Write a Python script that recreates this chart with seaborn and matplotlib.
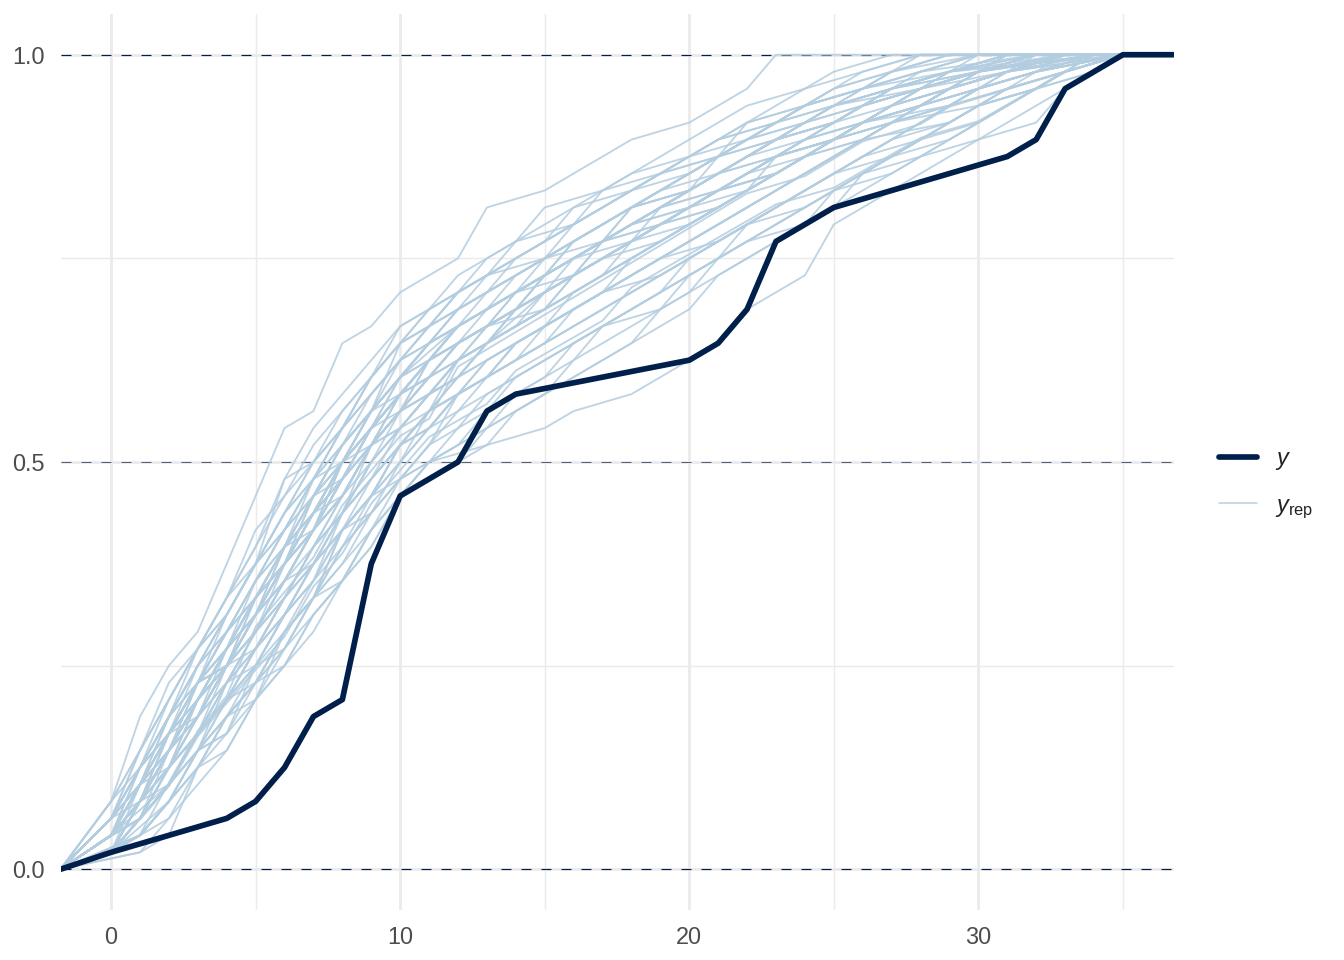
import numpy as np
import pandas as pd
import matplotlib
matplotlib.use("Agg")
import matplotlib.pyplot as plt
from matplotlib.lines import Line2D
import seaborn as sns

# ---------------- data ----------------
# observed outcome (48 counts)
y_obs = [0, 2, 4, 5, 6, 6, 7, 7, 7, 8,
         9, 9, 9, 9, 9, 9, 9, 9, 10, 10, 10, 10,
         12, 12, 13, 13, 13, 14, 17, 20, 21, 22, 22,
         23, 23, 23, 23, 25, 25, 27, 29, 31, 32, 33, 33, 33, 35, 35]

# possible count values
values = list(range(36))

# replicated datasets: frequency of each value 0..35 in each draw
yrep_freq = [
    [1,0,3,2,1,3,2,2,3,2,3, 1,1,1,0,1,1,0,1,0,2, 1,2,1,1,3,1,1,1,1,1, 0,1,2,1,1],
    [0,2,2,3,1,2,3,2,2,3,2, 2,1,1,0,2,1,1,1,1,1, 2,1,1,1,1,2,1,1,1,1, 1,0,1,0,1],
    [2,1,2,3,2,1,3,2,3,2,2, 2,2,1,1,1,0,2,1,1,1, 1,1,0,2,1,1,1,1,0,1, 1,1,0,1,1],
    [1,2,3,2,4,2,3,1,3,2,2, 1,2,1,2,1,1,1,0,1,1, 1,1,1,1,1,1,1,0,1,1, 0,1,1,0,1],
    [3,2,3,2,3,3,2,3,2,2,2, 2,1,2,1,1,1,1,1,1,1, 1,0,1,1,1,0,1,1,1,0, 1,0,1,0,0],
    [2,3,2,4,2,3,2,3,3,2,2, 1,2,1,1,2,1,1,1,1,0, 1,1,1,0,1,1,1,0,1,1, 0,0,1,0,0],
    [4,5,3,2,4,4,4,1,4,1,2, 1,1,3,0,1,1,1,1,0,1, 1,1,2,0,0,0,0,0,0,0, 0,0,0,0,0],
    [2,2,4,3,2,3,3,2,3,3,1, 2,2,1,1,0,2,1,1,1,1, 1,1,0,1,1,1,0,1,0,1, 0,1,0,0,0],
    [1,3,3,3,2,3,2,3,2,3,3, 1,2,1,1,1,1,1,1,1,1, 1,1,1,0,1,1,0,1,0,1, 0,1,0,0,1],
    [3,3,3,3,2,3,3,2,3,2,2, 2,1,1,2,1,1,1,1,0,1, 1,1,1,1,0,1,0,1,0,1, 0,1,0,0,0],
    [2,4,4,3,3,3,3,2,3,2,2, 1,2,1,1,1,1,1,1,1,1, 0,1,1,1,0,1,0,1,0,1, 0,0,0,0,0],
    [1,2,3,3,3,2,2,3,2,3,2, 2,2,1,1,1,2,1,1,1,0, 1,1,1,1,1,0,1,1,1,0, 1,0,1,0,0],
    [2,2,2,2,2,3,3,2,3,2,2, 2,1,2,1,1,1,1,1,1,1, 1,1,1,1,1,1,1,0,1,1, 0,1,0,1,0],
    [0,2,2,3,2,3,3,3,2,3,3, 2,1,2,1,1,1,1,1,1,1, 1,1,1,1,1,1,0,1,1,0, 1,0,1,0,0],
    [3,2,2,3,2,3,3,2,3,2,2, 1,2,1,1,2,1,1,1,0,1, 1,1,1,1,1,1,1,1,0,1, 0,0,1,0,0],
    [2,2,3,3,3,4,3,3,2,2,2, 1,2,1,1,1,1,1,1,1,1, 1,1,1,0,1,1,0,1,0,1, 0,1,0,0,0],
    [1,2,2,3,2,3,2,3,2,2,2, 2,1,2,1,1,1,1,1,1,1, 1,1,1,1,1,1,1,1,1,1, 0,1,0,1,0],
    [2,3,4,3,3,3,3,3,2,2,2, 2,1,1,1,1,1,1,1,1,1, 1,1,1,0,1,1,0,1,0,1, 0,0,0,0,0],
    [1,3,2,3,2,2,3,3,3,3,2, 1,2,1,2,1,1,1,1,1,0, 1,1,1,1,0,1,1,1,1,0, 1,0,1,0,0],
    [2,1,3,2,3,3,3,3,3,2,3, 2,1,1,1,1,1,1,0,1,1, 1,1,1,1,1,1,0,1,1,1, 0,0,0,1,0],
    [3,3,2,3,3,2,2,3,2,3,2, 2,2,1,1,1,1,1,1,1,1, 1,0,1,1,1,1,1,0,1,0, 1,0,0,0,0],
    [1,1,2,3,2,2,3,3,2,3,3, 2,2,1,1,1,1,1,1,1,1, 1,1,1,1,1,1,1,1,0,1, 1,0,1,0,0],
    [2,3,3,2,3,2,2,3,3,2,1, 2,1,2,1,1,1,1,2,1,1, 1,0,1,1,1,1,1,0,1,0, 1,1,0,0,0],
    [4,3,3,3,3,3,4,3,2,2,2, 1,1,1,1,1,1,1,1,1,1, 1,1,1,1,0,1,0,1,0,0, 0,0,0,0,0],
    [1,2,3,2,2,2,2,2,3,2,2, 2,1,2,1,1,1,1,1,1,1, 1,1,1,1,1,1,1,1,1,1, 1,0,1,0,1],
    [2,2,3,3,2,3,3,2,3,2,2, 1,2,1,1,1,1,1,1,1,1, 1,1,1,1,1,1,1,0,1,1, 0,0,1,0,0],
    [3,2,4,2,3,3,2,3,2,3,2, 1,2,1,1,1,1,1,1,1,1, 1,1,1,0,1,1,1,0,1,0, 0,1,0,0,0],
    [1,2,2,3,3,2,2,3,2,2,3, 1,2,1,1,2,1,1,1,1,1, 1,1,1,1,1,1,1,1,1,0, 1,0,0,1,0],
    [2,3,3,3,3,2,3,3,3,2,2, 2,1,1,1,1,1,1,1,1,1, 1,1,1,1,1,0,1,0,1,0, 0,0,1,0,0],
    [1,1,2,2,3,2,2,3,2,2,2, 1,1,2,1,1,1,1,1,2,1, 1,1,1,1,1,1,1,1,1,1, 1,1,0,1,1],
    [3,3,2,3,2,3,3,2,2,3,2, 2,1,1,1,1,1,1,1,1,1, 1,1,1,1,1,1,1,0,1,0, 0,0,0,0,1],
    [2,2,3,2,3,3,2,3,2,3,2, 2,1,1,2,1,1,1,1,1,1, 1,1,0,1,1,1,1,1,0,1, 1,0,0,0,0],
    [1,3,2,3,3,3,3,3,3,3,2, 2,2,1,1,1,1,1,1,1,1, 1,1,1,1,1,0,1,0,1,0, 0,0,0,0,0],
    [2,2,2,3,2,3,2,2,3,2,2, 2,1,1,1,1,2,1,1,1,1, 1,1,1,1,1,1,1,1,1,1, 0,1,0,0,0],
    [3,4,3,3,3,2,3,2,3,2,2, 1,2,1,1,1,1,1,1,1,1, 1,1,1,1,1,0,1,1,0,0, 0,0,0,0,0],
    [2,2,3,3,3,2,3,2,2,3,2, 1,1,2,1,1,1,1,1,1,1, 1,1,1,1,1,1,1,1,0,1, 0,0,0,1,0],
    [0,1,1,4,3,1,4,2,4,1,3, 3,0,2,2,0,2,1,0,2,1, 0,2,1,1,0,2,1,0,1,1, 1,0,0,0,1],
    [3,1,4,1,4,2,4,1,4,2,1, 3,1,0,2,2,0,2,1,0,2, 1,0,2,0,1,1,0,1,0,1, 0,0,1,0,0],
    [1,4,2,4,1,4,2,4,1,3,3, 0,3,1,1,2,0,1,2,0,1, 2,0,1,0,2,0,1,0,0,1, 0,0,0,1,0],
    [2,0,3,2,1,4,1,3,4,2,1, 2,3,1,0,2,1,0,2,1,0, 2,1,0,2,1,0,1,1,0,2, 0,1,1,0,1],
    [4,2,3,4,2,3,5,1,2,3,2, 2,0,2,1,1,2,0,1,1,0, 1,2,0,1,0,1,0,0,1,0, 1,0,0,0,0],
    [1,3,1,2,4,1,3,2,4,3,2, 1,3,2,0,1,2,1,0,2,1, 0,1,2,0,1,1,0,1,0,1, 0,1,0,0,1],
    [2,2,4,3,1,3,4,4,1,3,4, 1,2,1,2,0,1,2,0,1,1, 1,0,1,1,0,1,1,0,0,1, 0,0,0,0,0],
    [1,1,1,3,2,3,1,3,2,3,3, 1,0,1,2,1,2,0,2,1,1, 2,1,1,0,2,1,0,1,1,1, 1,1,1,0,1],
    [2,3,1,4,2,2,4,3,1,3,2, 3,1,0,2,1,2,0,1,2,0, 1,1,0,2,0,1,0,1,1,0, 1,0,0,0,1],
    [1,2,4,2,3,1,3,3,2,4,1, 2,2,1,0,3,1,2,0,1,1, 0,2,1,0,1,0,1,0,0,1, 0,1,1,0,1],
    [3,2,3,3,1,4,2,2,4,1,3, 1,2,2,1,0,2,1,2,0,1, 1,0,1,0,1,1,0,0,1,0, 1,0,1,0,1],
    [0,2,2,2,3,2,2,3,1,3,2, 2,1,1,2,1,1,2,0,1,2, 1,1,0,1,2,0,1,1,0,1, 1,1,1,1,1],
    [4,3,4,2,3,4,2,3,2,2,3, 1,2,1,1,2,0,1,1,0,1, 1,0,1,1,0,1,1,0,1,0, 0,0,0,0,0],
    [1,1,3,3,2,4,2,2,3,2,2, 1,3,1,1,1,0,2,1,1,0, 2,1,0,1,1,1,0,1,1,0, 1,0,1,0,1],
    [2,2,2,4,2,3,3,4,2,2,2, 2,2,1,1,1,1,1,0,1,1, 1,0,1,1,0,1,0,0,1,1, 0,1,1,1,0],
    [3,3,3,2,4,3,2,2,3,3,2, 2,1,2,0,1,2,1,1,1,0, 1,1,0,1,1,0,0,1,1,0, 1,0,0,0,0],
    [1,2,2,2,3,2,3,2,3,2,3, 1,2,1,2,1,2,1,1,1,1, 1,1,1,1,1,0,1,0,1,1, 0,1,0,1,0],
    [2,3,2,3,3,3,3,2,2,3,2, 2,1,1,2,0,1,1,1,1,1, 1,1,1,0,1,1,0,1,0,1, 0,1,0,0,1],
    [0,1,2,2,2,3,2,3,2,2,3, 2,1,2,1,1,2,0,2,1,1, 1,2,0,1,1,1,1,0,1,1, 1,1,1,0,1],
    [3,4,3,3,2,3,3,2,3,3,2, 1,1,1,2,1,1,1,1,0,1, 1,0,1,1,1,0,1,1,0,1, 0,0,0,0,0],
    [2,2,3,2,3,2,3,3,2,2,3, 2,2,1,1,1,1,2,1,0,1, 1,1,1,1,0,1,1,0,1,0, 1,0,1,0,0],
    [1,3,3,3,3,3,2,2,3,3,3, 2,1,2,1,1,1,1,1,1,1, 1,1,0,1,1,0,1,0,1,1, 0,0,0,0,0],
    [2,1,2,3,2,2,2,3,2,3,2, 2,1,1,2,1,1,1,2,1,1, 1,1,1,0,1,1,1,1,0,1, 1,1,1,1,0],
    [3,2,3,3,3,3,3,3,2,2,2, 2,1,1,1,1,2,1,1,1,1, 1,1,1,0,1,1,1,0,1,0, 0,0,0,0,0],
    [1,2,3,2,3,3,2,2,3,2,2, 2,2,1,1,1,1,1,1,1,0, 1,1,1,1,1,1,0,1,1,1, 1,1,0,0,1],
    [2,3,3,2,3,2,3,3,3,2,2, 1,2,1,1,1,1,1,1,1,1, 1,0,1,1,1,1,0,1,0,1, 0,1,1,0,0],
    [2,4,3,3,3,3,3,3,2,3,2, 2,1,2,1,1,1,1,1,1,1, 1,1,0,1,1,0,1,0,0,0, 0,0,0,0,0],
    [1,1,2,3,2,2,3,2,2,3,2, 1,2,1,2,1,1,1,1,1,2, 1,1,1,1,1,1,1,1,1,0, 1,0,1,0,1],
    [2,2,3,3,3,3,2,3,3,2,2, 2,1,1,1,2,1,1,1,1,1, 1,1,1,1,0,1,1,0,1,0, 0,1,0,0,0],
    [3,3,2,3,2,3,3,2,3,2,2, 2,2,1,1,1,1,1,1,1,1, 1,1,1,1,1,0,1,0,0,1, 0,0,1,0,0],
    [1,2,2,3,2,3,3,3,2,3,2, 2,1,2,1,1,1,1,1,1,1, 1,1,1,1,1,1,1,1,0,1, 1,0,0,0,0],
    [2,2,3,2,3,3,3,2,3,3,2, 2,2,1,1,1,1,1,1,0,1, 1,1,1,0,1,1,1,0,1,0, 1,0,0,1,0],
    [2,3,3,4,3,3,2,3,3,2,2, 2,2,1,1,1,1,1,1,1,1, 1,1,0,1,1,1,0,1,0,0, 0,0,0,0,0],
    [1,2,2,2,3,2,3,2,3,2,3, 2,1,2,1,1,1,1,2,1,1, 1,1,1,1,1,1,0,1,1,0, 1,0,1,0,0],
    [3,3,3,3,2,3,2,3,3,2,3, 1,2,1,1,1,1,1,1,1,0, 1,1,1,0,1,1,0,1,0,0, 1,0,1,0,0],
    [2,2,2,3,3,2,3,3,2,3,2, 2,1,1,2,1,1,1,1,1,1, 1,1,1,1,0,1,1,1,0,1, 0,1,0,0,0],
    [2,3,2,3,2,3,3,3,3,2,2, 2,1,1,2,1,1,1,1,1,1, 1,1,1,0,1,1,0,1,1,0, 1,0,0,0,0],
    [1,2,3,2,2,3,2,3,2,2,2, 2,2,1,1,1,1,1,1,1,1, 1,1,1,1,1,1,1,1,1,1, 0,1,0,0,1],
    [3,2,3,3,3,2,3,3,2,3,2, 2,1,1,1,1,2,1,1,1,1, 1,1,1,1,0,1,0,1,0,0, 0,1,0,0,0],
    [2,2,3,3,2,3,2,2,3,3,2, 2,2,1,1,1,1,1,1,1,1, 1,1,1,1,1,0,1,1,0,1, 0,0,1,0,0],
]

x_ticks = [0, 10, 20, 30]
y_ticks = [0.0, 0.5, 1.0]
y_tick_labels = ["0.0", "0.5", "1.0"]
legend_labels = ["$y$", "$y_{\\mathrm{rep}}$"]

# ---------------- style ----------------
col_y = "#011f4b"
col_rep = "#b3cde0"
grid_col = "#ebebeb"

sns.set_theme(style="white")
plt.rcParams["font.family"] = ["Liberation Sans", "DejaVu Sans"]
plt.rcParams["mathtext.fontset"] = "custom"
plt.rcParams["mathtext.it"] = "Liberation Sans:italic"
plt.rcParams["mathtext.rm"] = "Liberation Sans"
plt.rcParams["lines.scale_dashes"] = False

fig = plt.figure(figsize=(7, 5), dpi=192)
ax = fig.add_axes([60.5 / 1344, 1 - 910 / 960, (1173.5 - 60.5) / 1344, (910 - 14) / 960])

# x limits from data range with 5% expansion
xmin = min(values[0], min(y_obs))
xmax = max(values[-1], max(y_obs))
span = xmax - xmin
x_lo, x_hi = xmin - 0.05 * span, xmax + 0.05 * span

# ---- ECDF tables ----
rows = []
for i, freq in enumerate(yrep_freq):
    f = np.array(freq, dtype=float)
    cum = np.cumsum(f) / f.sum()
    rows.append({"rep": i, "x": x_lo, "F": 0.0})
    for v, c, k in zip(values, cum, f):
        if k > 0:
            rows.append({"rep": i, "x": v, "F": c})
    rows.append({"rep": i, "x": x_hi, "F": 1.0})
df_rep = pd.DataFrame(rows)

yv, yc = np.unique(np.array(y_obs), return_counts=True)
yF = np.cumsum(yc) / len(y_obs)
df_y = pd.DataFrame({"x": np.r_[x_lo, yv, x_hi], "F": np.r_[0.0, yF, 1.0]})

# ---- grid ----
ax.set_axisbelow(True)
ax.set_xticks(x_ticks)
ax.set_xticks([5, 15, 25, 35], minor=True)
ax.set_yticks(y_ticks)
ax.set_yticks([0.25, 0.75], minor=True)
ax.grid(which="major", color=grid_col, lw=1.07)
ax.grid(which="minor", color=grid_col, lw=0.53)

# ---- reference lines ----
for yy, lw in zip([0.0, 0.5, 1.0], [0.43, 0.25, 0.43]):
    ax.axhline(yy, color=col_y, lw=lw, ls=(0, (3.75, 3.75)), zorder=1.5)

# ---- lines ----
sns.lineplot(data=df_rep, x="x", y="F", units="rep", estimator=None, sort=False,
             color=col_rep, alpha=0.85, lw=0.7, ax=ax, legend=False, zorder=2)
sns.lineplot(data=df_y, x="x", y="F", estimator=None, sort=False,
             color=col_y, lw=2.13, ax=ax, legend=False, zorder=3)

ax.set_xlim(x_lo, x_hi)
ax.set_ylim(-0.05, 1.05)
ax.set_yticklabels(y_tick_labels)
ax.set_xlabel("")
ax.set_ylabel("")
for s in ax.spines.values():
    s.set_visible(False)
ax.tick_params(which="both", length=0, pad=6, labelsize=8.8, labelcolor="#4d4d4d")

handles = [Line2D([], [], color=col_y, lw=2.13),
           Line2D([], [], color=col_rep, lw=0.6, alpha=0.9)]
fig.legend(handles, legend_labels, loc="center left",
           bbox_to_anchor=(1219 / 1344, 1 - 484 / 960), frameon=False,
           fontsize=8.8, handlelength=1.6, handletextpad=0.8,
           labelspacing=0.9, borderpad=0, borderaxespad=0, labelcolor="#222222")

fig.savefig("out.png", dpi=192)
